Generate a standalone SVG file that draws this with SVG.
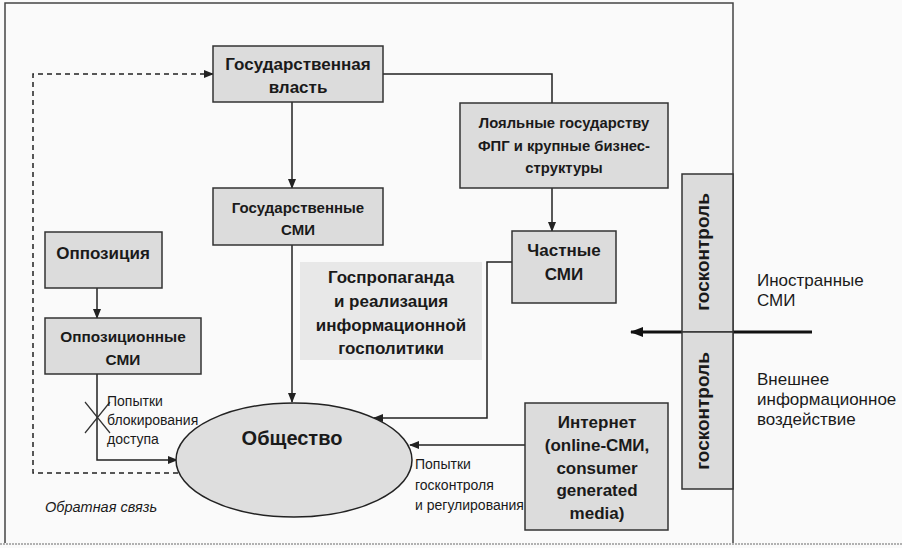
<svg xmlns="http://www.w3.org/2000/svg" width="902" height="548" viewBox="0 0 902 548">
<defs>
<marker id="ah" markerWidth="10" markerHeight="8" refX="9" refY="4" orient="auto" markerUnits="userSpaceOnUse">
<path d="M0,0 L10,4 L0,8 z" fill="#222"/>
</marker>
<marker id="ahb" markerWidth="14" markerHeight="10" refX="12" refY="5" orient="auto" markerUnits="userSpaceOnUse">
<path d="M0,0 L13,5 L0,10 z" fill="#111"/>
</marker>
<style>
.box{fill:#dcdcdc;stroke:#333;stroke-width:1.5}
.b{font-family:"Liberation Sans",Arial,sans-serif;font-weight:bold;fill:#1a1a1a;text-anchor:middle}
.n{font-family:"Liberation Sans",Arial,sans-serif;fill:#1a1a1a}
.ln{fill:none;stroke:#222;stroke-width:1.5}
</style>
</defs>
<rect x="0" y="0" width="902" height="548" fill="#fafafa"/>
<g id="frame">
<path d="M5,543 V3 H733 V543" fill="none" stroke="#444" stroke-width="1.5"/>
<line x1="0" y1="544" x2="902" y2="544" stroke="#999" stroke-width="1.5" stroke-dasharray="2,1"/>
</g>
<g id="connectors">
<path class="ln" d="M383,74 H552 V103"/>
<line class="ln" x1="292" y1="102" x2="292" y2="188" marker-end="url(#ah)"/>
<line class="ln" x1="552" y1="188" x2="552" y2="231" marker-end="url(#ah)"/>
<line class="ln" x1="292" y1="245" x2="292" y2="402" marker-end="url(#ah)"/>
<path class="ln" d="M512,262 H487 V418 H374" marker-end="url(#ah)"/>
<line class="ln" x1="97" y1="288" x2="97" y2="318" marker-end="url(#ah)"/>
<path class="ln" d="M97,374 V460 H177" marker-end="url(#ah)"/>
<path d="M85,402 L110,433 M85,433 L110,402" stroke="#333" stroke-width="1.2" fill="none"/>
<path class="ln" d="M178,473 H33 V74 H213" stroke-dasharray="5,4" marker-end="url(#ah)"/>
<line class="ln" x1="525" y1="445" x2="410" y2="445" marker-end="url(#ah)"/>
<line x1="812" y1="332" x2="631" y2="332" stroke="#111" stroke-width="3" marker-end="url(#ahb)"/>
</g>
<g id="gosvlast">
<rect class="box" x="213" y="46" width="170" height="56"/>
<text class="b" x="298" y="70" font-size="17">Государственная</text>
<text class="b" x="298" y="93" font-size="17">власть</text>
</g>
<g id="loyal">
<rect class="box" x="460" y="103" width="208" height="85"/>
<text class="b" x="564" y="128" font-size="14.8">Лояльные государству</text>
<text class="b" x="564" y="151" font-size="14.8">ФПГ и крупные бизнес-</text>
<text class="b" x="564" y="173" font-size="14.8">структуры</text>
</g>
<g id="gossmi">
<rect class="box" x="213" y="188" width="170" height="57"/>
<text class="b" x="298" y="213" font-size="15">Государственные</text>
<text class="b" x="298" y="235" font-size="15">СМИ</text>
</g>
<g id="chastnye">
<rect class="box" x="512" y="231" width="104" height="72"/>
<text class="b" x="564" y="256" font-size="17">Частные</text>
<text class="b" x="564" y="280" font-size="17">СМИ</text>
</g>
<g id="propaganda">
<rect x="300" y="262" width="182" height="98" fill="#e8e8e8"/>
<text class="b" x="391" y="283" font-size="17">Госпропаганда</text>
<text class="b" x="391" y="307" font-size="17">и реализация</text>
<text class="b" x="391" y="331" font-size="17">информационной</text>
<text class="b" x="391" y="354" font-size="17">госполитики</text>
</g>
<g id="oppoziciya">
<rect class="box" x="45" y="232" width="117" height="56"/>
<text class="b" x="103" y="259" font-size="17">Оппозиция</text>
</g>
<g id="oppsmi">
<rect class="box" x="45" y="318" width="156" height="56"/>
<text class="b" x="123" y="342" font-size="15.4">Оппозиционные</text>
<text class="b" x="123" y="365" font-size="15.4">СМИ</text>
</g>
<g id="block-label">
<text class="n" x="107" y="406" font-size="14">Попытки</text>
<text class="n" x="107" y="425" font-size="14">блокирования</text>
<text class="n" x="107" y="444" font-size="14">доступа</text>
</g>
<g id="obshchestvo">
<ellipse cx="294" cy="460" rx="118" ry="57" fill="#dedede" stroke="#222" stroke-width="1.5"/>
<text class="b" x="292" y="445" font-size="20">Общество</text>
</g>
<g id="feedback-label">
<text class="n" x="45" y="512" font-size="14.5" font-style="italic">Обратная связь</text>
</g>
<g id="internet">
<rect class="box" x="525" y="403" width="143" height="127"/>
<text class="b" x="597" y="428" font-size="17">Интернет</text>
<text class="b" x="597" y="451" font-size="17">(online-СМИ,</text>
<text class="b" x="597" y="474" font-size="17">consumer</text>
<text class="b" x="597" y="496" font-size="17">generated</text>
<text class="b" x="597" y="519" font-size="17">media)</text>
</g>
<g id="reg-label">
<text class="n" x="415" y="469" font-size="14">Попытки</text>
<text class="n" x="415" y="490" font-size="14">госконтроля</text>
<text class="n" x="415" y="510" font-size="14">и регулирования</text>
</g>
<g id="goskontrol-top">
<rect class="box" x="682" y="174" width="51" height="158"/>
<text class="b" x="0" y="0" font-size="19" transform="translate(709,252) rotate(-90)">госконтроль</text>
</g>
<g id="goskontrol-bottom">
<rect class="box" x="682" y="332" width="51" height="157"/>
<text class="b" x="0" y="0" font-size="19" transform="translate(709,411) rotate(-90)">госконтроль</text>
</g>
<g id="foreign">
<text class="n" x="757" y="286" font-size="17">Иностранные</text>
<text class="n" x="757" y="306" font-size="17">СМИ</text>
</g>
<g id="external">
<text class="n" x="757" y="385" font-size="17">Внешнее</text>
<text class="n" x="757" y="405" font-size="17">информационное</text>
<text class="n" x="757" y="425" font-size="17">воздействие</text>
</g>
</svg>
